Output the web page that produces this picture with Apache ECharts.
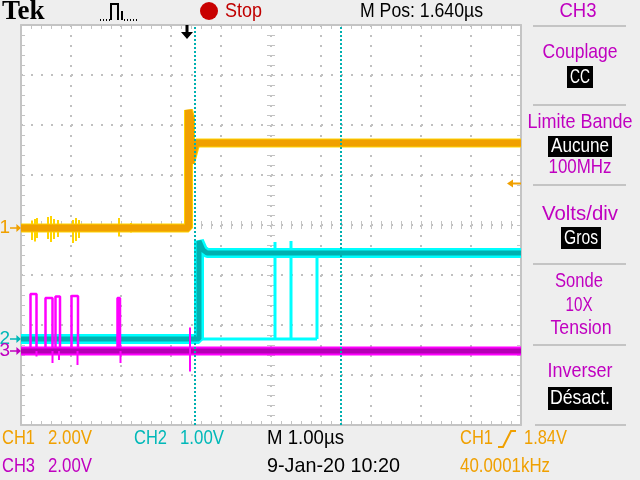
<!DOCTYPE html>
<html><head><meta charset="utf-8">
<script src="https://cdn.jsdelivr.net/npm/echarts@6/dist/echarts.min.js"></script>
<style>html,body{margin:0;padding:0;background:#eeeeee;}#main{width:640px;height:480px;}</style>
</head><body><div id="main"></div>
<script>
// ---------- data (x in divisions of 1.00 µs, y in divisions) ----------
const xDivs = 10, yDivs = 8;
// CH1 (orange)
const ch1X = [0, 3.35, 3.35, 3.39, 3.39, 3.46, 3.50, 10];
const ch1Y = [3.94, 3.94, 6.30, 6.14, 5.24, 5.50, 5.64, 5.64];
const ch1SpikeX  = [0.22, 0.28, 0.32, 0.54, 0.60, 0.66, 0.74, 1.04, 1.10, 1.16, 1.96, 2.20];
const ch1SpikeLo = [3.70, 3.67, 3.74, 3.72, 3.66, 3.72, 3.76, 3.64, 3.68, 3.74, 3.77, 3.85];
const ch1SpikeHi = [4.09, 4.12, 4.14, 4.16, 4.18, 4.12, 4.10, 4.10, 4.14, 4.10, 4.14, 4.04];
// CH2 (cyan)
const ch2X = [0, 3.56, 3.56, 3.64, 3.72, 10];
const ch2Y = [1.72, 1.72, 3.68, 3.50, 3.44, 3.44];
const ch2LateEdgeX = [5.08, 5.40, 5.92];
const ch2LateTop   = [3.66, 3.68, 3.52];
const ch2GlitchX = [3.38], ch2GlitchLo = [1.70], ch2GlitchHi = [1.94];
// CH3 (magenta)
const ch3Base = 1.48;
const ch3PulseStart = [0.19, 0.49, 0.69, 1.01, 1.93];
const ch3PulseEnd   = [0.31, 0.63, 0.78, 1.14, 1.98];
const ch3PulseTop   = [2.62, 2.54, 2.57, 2.58, 2.54];
const ch3GlitchX  = [0.31, 0.63, 0.76, 1.13, 1.99, 3.38];
const ch3GlitchLo = [1.37, 1.24, 1.30, 1.20, 1.24, 1.07];
const ch3GlitchHi = [1.48, 1.48, 1.48, 1.48, 1.48, 1.95];
// markers
const cursorsX = [3.48, 6.40];
const triggerPosX = 3.32;
const triggerLevel = 4.83;
const chLevels = [3.94, 1.72, 1.48];
const chNames = ['1', '2', '3'];

// ---------- styling ----------
const ORANGE = '#f0a000', YELLOW = '#ffd400', CYAN = '#00ffff', TEAL = '#00b0b0',
      MAG = '#ff00ff', MAGD = '#b400b4', MAGT = '#c000c0', GRIDC = '#c4c4c4';
const FF = '"Liberation Sans", Arial, sans-serif';

function pairs(xs, ys) { return xs.map((x, i) => [x, ys[i]]); }
function segs(xs, lo, hi) { const o = []; xs.forEach((x, i) => { o.push([x, lo[i]], [x, hi[i]], ['-', '-']); }); return o; }
const ch3PulseData = [];
ch3PulseStart.forEach((s, i) => {
  ch3PulseData.push([s, ch3Base], [s, ch3PulseTop[i]], [ch3PulseEnd[i], ch3PulseTop[i]], [ch3PulseEnd[i], ch3Base], ['-', '-']);
});
const ch2LateData = [[ch2X[1], ch2Y[1]], [ch2LateEdgeX[ch2LateEdgeX.length - 1], ch2Y[1]], ['-', '-']];
ch2LateEdgeX.forEach((x, i) => { ch2LateData.push([x, ch2Y[1]], [x, ch2LateTop[i]], ['-', '-']); });
const cursorData = [];
cursorsX.forEach(x => cursorData.push([x, 0], [x, yDivs], ['-', '-']));
const ch3Data = [[0, ch3Base], [xDivs, ch3Base]];

function line(data, color, width, z, extra) {
  return Object.assign({
    type: 'line', data, symbol: 'none', animation: false, silent: true, z,
    connectNulls: false, emphasis: { disabled: true },
    lineStyle: { color, width, cap: 'butt', join: 'bevel' }
  }, extra || {});
}
const ARROW_R = 'path://M0,3.2 L7,3.2 L7,0 L12,4 L7,8 L7,4.8 L0,4.8 Z';
const ARROW_L = 'path://M0,4 L6,0 L6,3 L14,3 L14,5 L6,5 L6,8 Z';
const ARROW_D = 'path://M4.5,0 L7.5,0 L7.5,7 L12,7 L6,14 L0,7 L4.5,7 Z';
function chMarker(i, color) {
  return { coord: [0, chLevels[i]], symbol: ARROW_R, symbolSize: [11, 8], symbolOffset: [-5.5, 0],
    itemStyle: { color }, label: { show: true, formatter: chNames[i], position: 'left', distance: 0,
      color, fontSize: 19, fontFamily: FF } };
}
function mp(items) { return { silent: true, animation: false, data: items }; }

function xAx(position, offset, main) {
  return { type: 'value', min: 0, max: xDivs, interval: 1, position, offset,
    axisLine: { show: main, onZero: false, lineStyle: { color: GRIDC, width: 2 } },
    axisTick: { show: true, inside: true, length: 4, lineStyle: { color: GRIDC, width: 1 } },
    minorTick: { show: true, splitNumber: 5, length: 4, lineStyle: { color: GRIDC, width: 1 } },
    axisLabel: { show: false },
    splitLine: { show: main && position === 'bottom', lineStyle: { color: '#c0c0c0', width: 2, type: [2, 8] } } };
}
function yAx(position, offset, main) {
  return { type: 'value', min: 0, max: yDivs, interval: 1, position, offset,
    axisLine: { show: main, onZero: false, lineStyle: { color: GRIDC, width: 2 } },
    axisTick: { show: true, inside: true, length: 4, lineStyle: { color: GRIDC, width: 1 } },
    minorTick: { show: true, splitNumber: 5, length: 4, lineStyle: { color: GRIDC, width: 1 } },
    axisLabel: { show: false },
    splitLine: { show: main && position === 'left', lineStyle: { color: '#c0c0c0', width: 2, type: [2, 8] } } };
}

// ---------- text helpers ----------
const mctx = document.createElement('canvas').getContext('2d');
function measure(t, size, fam, weight) { mctx.font = (weight || 'normal') + ' ' + size + 'px ' + fam; return mctx.measureText(t).width; }
function txt(t, x, y, width, color, align) {
  const s = width / measure(t, 21, FF);
  return { type: 'text', x, y, scaleX: s, z: 100, silent: true,
    style: { text: t, fill: color, fontSize: 21, fontFamily: FF, textAlign: align || 'left', align: align || 'left',
      textVerticalAlign: 'middle', verticalAlign: 'middle' } };
}
function box(x, y, w, h) { return { type: 'rect', shape: { x, y, width: w, height: h }, style: { fill: '#000' }, z: 99, silent: true }; }
function hline(x1, x2, y) { return { type: 'line', shape: { x1, y1: y, x2, y2: y }, style: { stroke: '#c4c4c4', lineWidth: 2 }, z: 99, silent: true }; }

const graphics = [
  { type: 'text', x: 2, y: 12, z: 100, silent: true, style: { text: 'Tek', fill: '#000', fontSize: 27, fontWeight: 'bold',
    fontFamily: '"Liberation Serif", "Times New Roman", serif', textVerticalAlign: 'middle', verticalAlign: 'middle' } },
  { type: 'polyline', z: 100, silent: true, shape: { points: [[111, 20], [111, 4], [118, 4], [118, 20]] }, style: { stroke: '#000', lineWidth: 2, fill: null } },
  { type: 'polyline', z: 100, silent: true, shape: { points: [[122, 20], [122, 11]] }, style: { stroke: '#000', lineWidth: 2, fill: null } },
  { type: 'line', z: 100, silent: true, shape: { x1: 100, y1: 20, x2: 110, y2: 20 }, style: { stroke: '#000', lineWidth: 2, lineDash: [1, 2] } },
  { type: 'line', z: 100, silent: true, shape: { x1: 124, y1: 20, x2: 137, y2: 20 }, style: { stroke: '#000', lineWidth: 2, lineDash: [1, 2] } },
  { type: 'circle', z: 100, silent: true, shape: { cx: 209, cy: 11, r: 9 }, style: { fill: '#c80000' } },
  txt('Stop', 225, 11, 37, '#c00000'),
  txt('M Pos: 1.640µs', 360, 11, 123, '#000'),
  txt('CH3', 578, 11, 37, MAGT, 'center'),
  hline(533, 626, 26),
  txt('Couplage', 580, 52, 75, MAGT, 'center'),
  box(567, 66, 26, 22), txt('CC', 580, 77, 20, '#fff', 'center'),
  hline(533, 626, 105),
  txt('Limite Bande', 580, 122, 105, MAGT, 'center'),
  box(548, 136, 64, 21), txt('Aucune', 580, 146, 58, '#fff', 'center'),
  txt('100MHz', 580, 167, 63, MAGT, 'center'),
  hline(533, 626, 185),
  txt('Volts/div', 580, 214, 76, MAGT, 'center'),
  box(561, 227, 40, 22), txt('Gros', 581, 238, 34, '#fff', 'center'),
  hline(533, 626, 264),
  txt('Sonde', 579, 281, 48, MAGT, 'center'),
  txt('10X', 579, 305, 27, MAGT, 'center'),
  txt('Tension', 581, 328, 61, MAGT, 'center'),
  hline(533, 626, 345),
  txt('Inverser', 580, 371, 65, MAGT, 'center'),
  box(548, 387, 64, 23), txt('Désact.', 580, 398, 60, '#fff', 'center'),
  hline(535, 626, 425),
  // bottom status
  txt('CH1', 2, 438, 33, ORANGE), txt('2.00V', 48, 438, 44, ORANGE),
  txt('CH2', 134, 438, 33, '#00b8b8'), txt('1.00V', 180, 438, 44, '#00b8b8'),
  txt('M 1.00µs', 267, 438, 77, '#000'),
  txt('CH1', 460, 438, 33, ORANGE),
  { type: 'polyline', z: 100, silent: true, shape: { points: [[498, 447], [503, 447], [511, 431], [516, 431]] }, style: { stroke: ORANGE, lineWidth: 2, fill: null } },
  txt('1.84V', 524, 438, 43, ORANGE),
  txt('CH3', 2, 466, 33, MAGT), txt('2.00V', 48, 466, 44, MAGT),
  txt('9-Jan-20 10:20', 267, 466, 133, '#000'),
  txt('40.0001kHz', 460, 466, 90, ORANGE)
];

const option = {
  backgroundColor: '#eeeeee',
  animation: false,
  grid: { left: 21, top: 25, width: 500, height: 400, show: true, backgroundColor: '#ffffff', borderWidth: 0 },
  xAxis: [xAx('bottom', 0, true), xAx('top', 0, true), xAx('bottom', -200, false), xAx('top', -200, false)],
  yAxis: [yAx('left', 0, true), yAx('right', 0, true), yAx('left', -250, false), yAx('right', -250, false)],
  series: [
    line(ch2LateData, CYAN, 3, 2),
    line(segs(ch2GlitchX, ch2GlitchLo, ch2GlitchHi), CYAN, 2, 2),
    line(pairs(ch2X, ch2Y), CYAN, 10, 3),
    line(pairs(ch2X, ch2Y), TEAL, 5, 4, { markPoint: mp([chMarker(1, '#00b8b8')]) }),
    line(ch3PulseData, MAG, 2.5, 5),
    line(ch3Data, MAG, 9, 5),
    line(ch3Data, MAGD, 5, 6, { markPoint: mp([chMarker(2, MAGT)]) }),
    line(segs(ch3GlitchX, ch3GlitchLo, ch3GlitchHi), MAG, 2, 6),
    line(segs(ch1SpikeX, ch1SpikeLo, ch1SpikeHi), YELLOW, 2, 7),
    line(pairs(ch1X, ch1Y), YELLOW, 9, 7),
    line(pairs(ch1X, ch1Y), ORANGE, 7, 8, { markPoint: mp([chMarker(0, ORANGE),
      { coord: [xDivs, triggerLevel], symbol: ARROW_L, symbolSize: [14, 8], symbolOffset: [-7, 0], itemStyle: { color: ORANGE }, label: { show: false } }]) }),
    Object.assign(line(cursorData, TEAL, 2, 20), {
      lineStyle: { color: TEAL, width: 2, type: [2, 2] },
      markPoint: mp([{ coord: [triggerPosX, yDivs], symbol: ARROW_D, symbolSize: [12, 14], symbolOffset: [0, 7], itemStyle: { color: '#000' }, label: { show: false } }])
    })
  ],
  graphic: graphics
};
const chart = echarts.init(document.getElementById('main'), null, { renderer: 'canvas', width: 640, height: 480 });
chart.setOption(option);
</script>
</body></html>
